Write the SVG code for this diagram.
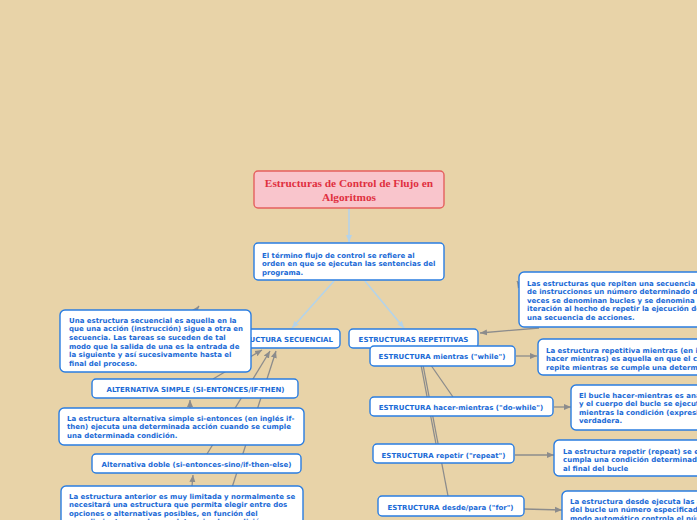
<svg xmlns="http://www.w3.org/2000/svg" width="697" height="520" viewBox="0 0 697 520">
<style>
.bg{fill:#E8D3A8}
.box{fill:#ffffff;stroke:#2A7DE1;stroke-width:1.4}
.t{font-family:"DejaVu Sans",Verdana,sans-serif;font-weight:bold;font-size:7px;fill:#1A6AD6}
.c{text-anchor:middle}
.title{fill:#F9C5CC;stroke:#E5605E;stroke-width:1.4}
.tt{font-family:"Liberation Serif","Times New Roman",serif;font-weight:bold;font-size:11.3px;fill:#E0303F;text-anchor:middle}
.g{stroke:#8C8C8C;stroke-width:1.3;fill:none}
.lb{stroke:#B4D3EA;stroke-width:1.6;fill:none}
</style>
<defs>
<marker id="ag" markerUnits="userSpaceOnUse" markerWidth="8" markerHeight="8" refX="7" refY="4" orient="auto"><path d="M0,1 L7,4 L0,7 Z" fill="#8C8C8C"/></marker>
<marker id="ab" markerUnits="userSpaceOnUse" markerWidth="8" markerHeight="8" refX="7" refY="4" orient="auto"><path d="M0,1 L7,4 L0,7 Z" fill="#B4D3EA"/></marker>
</defs>
<rect class="bg" x="0" y="0" width="697" height="520"/>

<g id="connectors">
<line class="lb" x1="349" y1="208" x2="349" y2="242" marker-end="url(#ab)"/>
<line class="lb" x1="334" y1="281" x2="292" y2="328" marker-end="url(#ab)"/>
<line class="lb" x1="365" y1="281" x2="404" y2="328" marker-end="url(#ab)"/>
<line class="g" x1="213" y1="379" x2="262" y2="350" marker-end="url(#ag)"/>
<line class="g" x1="207" y1="454" x2="270" y2="351" marker-end="url(#ag)"/>
<line class="g" x1="228" y1="500" x2="276" y2="351" marker-end="url(#ag)"/>
<line class="g" x1="190" y1="318" x2="199" y2="306" marker-end="url(#ag)"/>
<line class="g" x1="190" y1="408" x2="190" y2="400" marker-end="url(#ag)"/>
<line class="g" x1="192" y1="486" x2="193" y2="475" marker-end="url(#ag)"/>
<line class="g" x1="539" y1="328" x2="480" y2="333" marker-end="url(#ag)"/>
<line class="g" x1="521" y1="288" x2="517" y2="281" marker-end="url(#ag)"/>
<line class="g" x1="453" y1="397" x2="419" y2="348"/>
<line class="g" x1="436" y1="444" x2="418" y2="349"/>
<line class="g" x1="448" y1="496" x2="420" y2="349"/>
<line class="g" x1="516" y1="356" x2="537" y2="356" marker-end="url(#ag)"/>
<line class="g" x1="554" y1="407" x2="571" y2="407" marker-end="url(#ag)"/>
<line class="g" x1="515" y1="455" x2="554" y2="455" marker-end="url(#ag)"/>
<line class="g" x1="524" y1="509" x2="562" y2="510" marker-end="url(#ag)"/>
</g>

<g id="n-title">
<rect class="title" x="254" y="171" width="190" height="37" rx="4"/>
<text class="tt" x="349" y="187">Estructuras de Control de Flujo en</text>
<text class="tt" x="349" y="201">Algoritmos</text>
</g>

<g id="n-def">
<rect class="box" x="254" y="243" width="190" height="37" rx="4"/>
<text class="t" x="262" y="257.5">El término flujo de control se refiere al</text>
<text class="t" x="262" y="266">orden en que se ejecutan las sentencias del</text>
<text class="t" x="262" y="274.5">programa.</text>
</g>

<g id="n-secuencial">
<rect class="box" x="215" y="329" width="125" height="19" rx="4"/>
<text class="t" x="333" y="341.5" text-anchor="end">ESTRUCTURA SECUENCIAL</text>
</g>

<g id="n-secuencial-desc">
<rect class="box" x="60" y="310" width="191" height="62" rx="5"/>
<text class="t" x="69" y="322.5">Una estructura secuencial es aquella en la</text>
<text class="t" x="69" y="331.2">que una acción (instrucción) sigue a otra en</text>
<text class="t" x="69" y="339.9">secuencia. Las tareas se suceden de tal</text>
<text class="t" x="69" y="348.6">modo que la salida de una es la entrada de</text>
<text class="t" x="69" y="357.3">la siguiente y así sucesivamente hasta el</text>
<text class="t" x="69" y="366">final del proceso.</text>
</g>

<g id="n-alt-simple">
<rect class="box" x="92" y="379" width="206" height="19" rx="4"/>
<text class="t c" x="195.5" y="391.5">ALTERNATIVA SIMPLE (SI-ENTONCES/IF-THEN)</text>
</g>

<g id="n-alt-simple-desc">
<rect class="box" x="59" y="408" width="245" height="37" rx="5"/>
<text class="t" x="67" y="420.5">La estructura alternativa simple si-entonces (en inglés if-</text>
<text class="t" x="67" y="429">then) ejecuta una determinada acción cuando se cumple</text>
<text class="t" x="67" y="437.5">una determinada condición.</text>
</g>

<g id="n-alt-doble">
<rect class="box" x="92" y="454" width="209" height="19" rx="4"/>
<text class="t c" x="196.5" y="466.5">Alternativa doble (si-entonces-sino/if-then-else)</text>
</g>

<g id="n-alt-doble-desc">
<rect class="box" x="61" y="486" width="242" height="50" rx="5"/>
<text class="t" x="69" y="498.5">La estructura anterior es muy limitada y normalmente se</text>
<text class="t" x="69" y="507">necesitará una estructura que permita elegir entre dos</text>
<text class="t" x="69" y="515.5">opciones o alternativas posibles, en función del</text>
<text class="t" x="69" y="524">cumplimiento o no de una determinada condición.</text>
</g>

<g id="n-repetitivas">
<rect class="box" x="349" y="329" width="129" height="19" rx="4"/>
<text class="t c" x="413.5" y="341.5">ESTRUCTURAS REPETITIVAS</text>
</g>

<g id="n-repetitivas-desc">
<rect class="box" x="519" y="272" width="200" height="55" rx="5"/>
<text class="t" x="527" y="285.5">Las estructuras que repiten una secuencia</text>
<text class="t" x="527" y="294">de instrucciones un número determinado de</text>
<text class="t" x="527" y="302.5">veces se denominan bucles y se denomina</text>
<text class="t" x="527" y="311">iteración al hecho de repetir la ejecución de</text>
<text class="t" x="527" y="319.5">una secuencia de acciones.</text>
</g>

<g id="n-mientras">
<rect class="box" x="370" y="346" width="145" height="20" rx="4"/>
<text class="t c" x="442" y="358.5">ESTRUCTURA mientras ("while")</text>
</g>

<g id="n-mientras-desc">
<rect class="box" x="538" y="339" width="200" height="36" rx="5"/>
<text class="t" x="546" y="352.5">La estructura repetitiva mientras (en inglés while o dowhile:</text>
<text class="t" x="546" y="361">hacer mientras) es aquella en que el cuerpo del bucle se</text>
<text class="t" x="546" y="369.5">repite mientras se cumple una determinada condición.</text>
</g>

<g id="n-hacer">
<rect class="box" x="370" y="397" width="183" height="19" rx="4"/>
<text class="t c" x="461" y="409.5">ESTRUCTURA hacer-mientras ("do-while")</text>
</g>

<g id="n-hacer-desc">
<rect class="box" x="571" y="385" width="180" height="45" rx="5"/>
<text class="t" x="579" y="397.5">El bucle hacer-mientras es análogo al bucle mientras</text>
<text class="t" x="579" y="406">y el cuerpo del bucle se ejecuta una y otra vez</text>
<text class="t" x="579" y="414.5">mientras la condición (expresión booleana) es</text>
<text class="t" x="579" y="423">verdadera.</text>
</g>

<g id="n-repetir">
<rect class="box" x="373" y="444" width="141" height="19" rx="4"/>
<text class="t c" x="443.5" y="457.5">ESTRUCTURA repetir ("repeat")</text>
</g>

<g id="n-repetir-desc">
<rect class="box" x="554" y="440" width="200" height="36" rx="5"/>
<text class="t" x="563" y="453.5">La estructura repetir (repeat) se ejecuta hasta que se</text>
<text class="t" x="563" y="462">cumpla una condición determinada que se comprueba</text>
<text class="t" x="563" y="470.5">al final del bucle</text>
</g>

<g id="n-desde">
<rect class="box" x="378" y="496" width="146" height="20" rx="4"/>
<text class="t c" x="450.5" y="509.5">ESTRUCTURA desde/para ("for")</text>
</g>

<g id="n-desde-desc">
<rect class="box" x="562" y="491" width="200" height="45" rx="5"/>
<text class="t" x="570" y="503.5">La estructura desde ejecuta las acciones del cuerpo</text>
<text class="t" x="570" y="512">del bucle un número especificado de veces y de</text>
<text class="t" x="570" y="520.5">modo automático controla el número de iteraciones</text>
</g>
</svg>
